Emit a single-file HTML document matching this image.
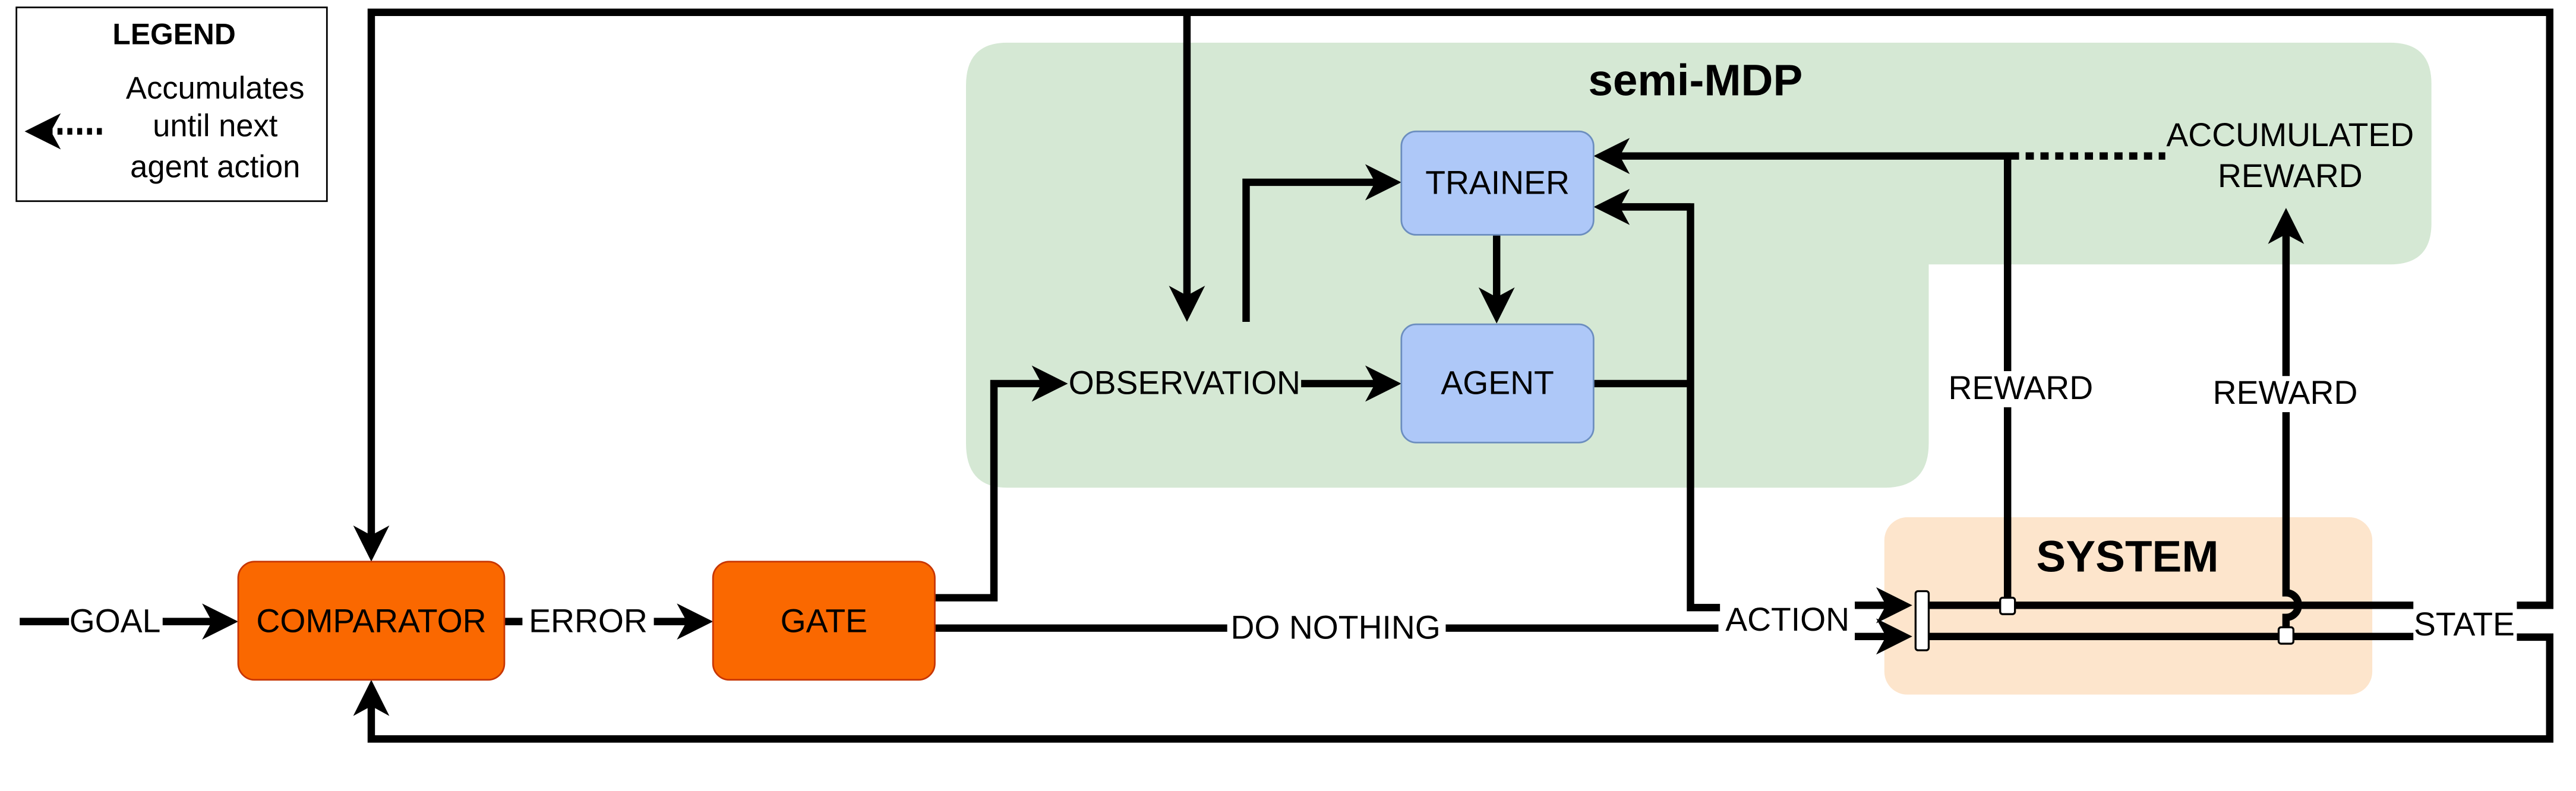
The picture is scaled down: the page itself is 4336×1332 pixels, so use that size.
<!DOCTYPE html>
<html><head><meta charset="utf-8"><style>
html,body{margin:0;padding:0;background:#fff;}
svg{display:block;}
text{font-family:"Liberation Sans",Arial,sans-serif;fill:#000;}
</style></head><body>
<svg width="4336" height="1332" viewBox="0 0 1568 481.7" preserveAspectRatio="none" xmlns="http://www.w3.org/2000/svg">
<defs>
<marker id="a" markerUnits="userSpaceOnUse" markerWidth="22" markerHeight="22" refX="10" refY="11" orient="auto">
<path d="M0,0 L22,11 L0,22 L6,11 Z" fill="#000"/>
</marker>
</defs>
<path d="M613,26 H1455 Q1480,26 1480,51 V136 Q1480,161 1455,161 H1174 V270 Q1174,297 1147,297 H613 Q588,297 588,270 V52 Q588,26 613,26 Z" fill="#d5e8d4"/>
<text x="1032" y="58" font-size="27" font-weight="bold" text-anchor="middle">semi-MDP</text>
<rect x="1147" y="315" width="297" height="108" rx="14" fill="#fde5cc"/>
<text x="1295" y="348" font-size="27" font-weight="bold" text-anchor="middle">SYSTEM</text>
<rect x="10" y="4.5" width="189" height="118" fill="#fff" stroke="#000" stroke-width="1"/>
<text x="106" y="27" font-size="18" font-weight="bold" text-anchor="middle">LEGEND</text>
<text x="131" y="60" font-size="19" text-anchor="middle">Accumulates</text>
<text x="131" y="83" font-size="19" text-anchor="middle">until next</text>
<text x="131" y="108" font-size="19" text-anchor="middle">agent action</text>
<line x1="62" y1="80" x2="27" y2="80" stroke="#000" stroke-width="4" stroke-dasharray="3,3" marker-end="url(#a)"/>
<g fill="none" stroke="#000" stroke-width="4.5">
<polyline points="1532,368.6 1552,368.6 1552,7.5 226,7.5 226,330" marker-end="url(#a)"/>
<polyline points="1532,388 1552,388 1552,450 226,450 226,426" marker-end="url(#a)"/>
<line x1="722.5" y1="7.5" x2="722.5" y2="184" marker-end="url(#a)"/>
<line x1="12" y1="378.5" x2="133" y2="378.5" marker-end="url(#a)"/>
<line x1="307" y1="378.5" x2="422" y2="378.5" marker-end="url(#a)"/>
<polyline points="569,364 605,364 605,233.6 638,233.6" marker-end="url(#a)"/>
<polyline points="569,382.5 1046,382.5"/>
<polyline points="758.5,196 758.5,111 841,111" marker-end="url(#a)"/>
<line x1="792" y1="233.6" x2="841" y2="233.6" marker-end="url(#a)"/>
<line x1="911" y1="143" x2="911" y2="185" marker-end="url(#a)"/>
<polyline points="970,233.6 1029,233.6"/>
<polyline points="982,126 1029,126 1029,370 1047,370"/>
<line x1="1029" y1="126" x2="982" y2="126" marker-end="url(#a)"/>
<line x1="1129" y1="368.6" x2="1152" y2="368.6" marker-end="url(#a)"/>
<line x1="1129" y1="387.6" x2="1152" y2="387.6" marker-end="url(#a)"/>
<line x1="1174" y1="368.6" x2="1469" y2="368.6"/>
<line x1="1174" y1="387.6" x2="1469" y2="387.6"/>
<polyline points="1222,365 1222,95 982,95" marker-end="url(#a)"/>
<line x1="1224" y1="95" x2="1318" y2="95" stroke-dasharray="5,4"/>
<path d="M1391.5,383 V376 A7.5,7.5 0 0 0 1391.5,361 V138.6" marker-end="url(#a)"/>
</g>
<rect x="1166" y="360" width="8" height="36" rx="1.5" fill="#fff" stroke="#000" stroke-width="1.2"/>
<rect x="1217.5" y="364" width="9" height="10" rx="1.5" fill="#fff" stroke="#000" stroke-width="1.2"/>
<rect x="1387" y="382" width="9" height="10" rx="1.5" fill="#fff" stroke="#000" stroke-width="1.2"/>
<rect x="145" y="342" width="162" height="72" rx="10" fill="#fa6800" stroke="#c73500" stroke-width="1"/>
<text x="226" y="385" font-size="20" text-anchor="middle">COMPARATOR</text>
<rect x="434" y="342" width="135" height="72" rx="10" fill="#fa6800" stroke="#c73500" stroke-width="1"/>
<text x="501.5" y="385" font-size="20" text-anchor="middle">GATE</text>
<rect x="853" y="80" width="117" height="63" rx="9" fill="#aec8f8" stroke="#6c8ebf" stroke-width="1"/>
<text x="911.5" y="118" font-size="20" text-anchor="middle">TRAINER</text>
<rect x="853" y="197.5" width="117" height="72" rx="9" fill="#aec8f8" stroke="#6c8ebf" stroke-width="1"/>
<text x="911.5" y="240" font-size="20" text-anchor="middle">AGENT</text>
<rect x="42" y="368" width="57" height="22" fill="#fff"/>
<text x="70" y="385" font-size="20" text-anchor="middle">GOAL</text>
<rect x="318" y="368" width="80" height="22" fill="#fff"/>
<text x="358" y="385" font-size="20" text-anchor="middle">ERROR</text>
<rect x="747" y="372" width="133" height="22" fill="#fff"/>
<text x="813" y="389" font-size="20" text-anchor="middle">DO NOTHING</text>
<text x="721" y="240" font-size="20" text-anchor="middle">OBSERVATION</text>
<rect x="1047" y="366" width="82" height="22" fill="#fff"/>
<text x="1088" y="384" font-size="20" text-anchor="middle">ACTION</text>
<text x="1500" y="387" font-size="20" text-anchor="middle">STATE</text>
<rect x="1182" y="226" width="96" height="22" fill="#fff"/>
<text x="1230" y="243" font-size="20" text-anchor="middle">REWARD</text>
<rect x="1343" y="229" width="96" height="22" fill="#fff"/>
<text x="1391" y="246" font-size="20" text-anchor="middle">REWARD</text>
<text x="1394" y="89" font-size="20" text-anchor="middle">ACCUMULATED</text>
<text x="1394" y="114" font-size="20" text-anchor="middle">REWARD</text>
</svg>
</body></html>
